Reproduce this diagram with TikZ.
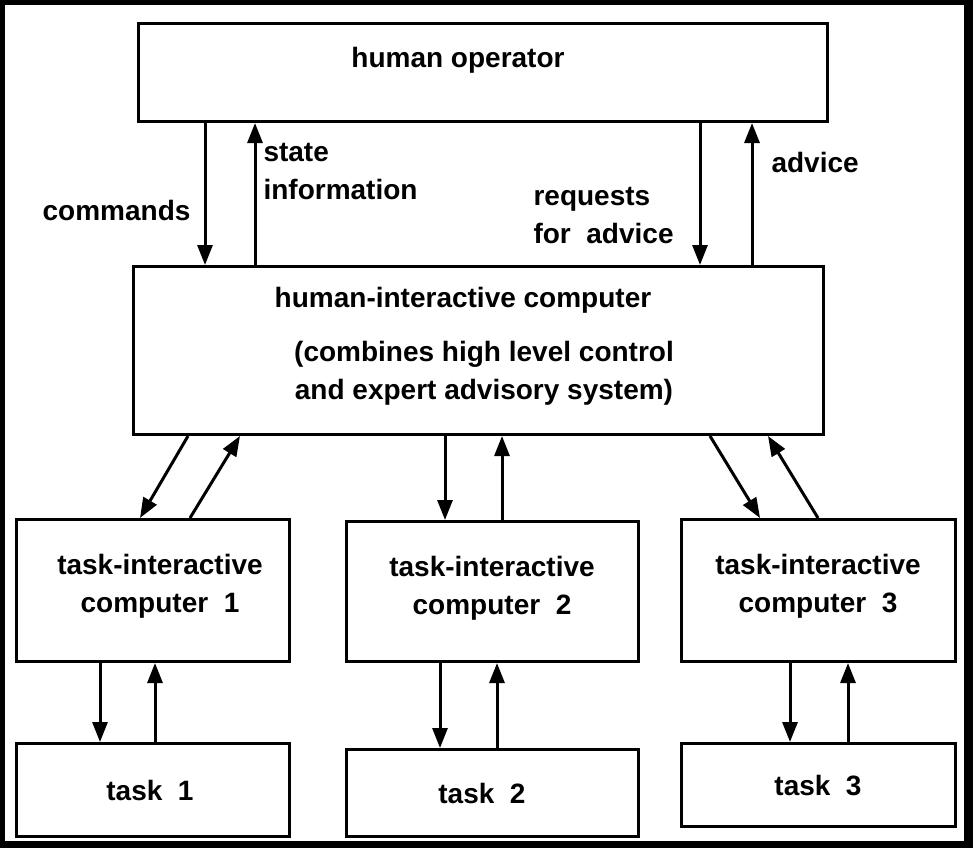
\documentclass[tikz,border=0pt]{standalone}
\usepackage{fontspec}
\setmainfont{Liberation Sans}
\usetikzlibrary{arrows.meta}
\begin{document}
\begin{tikzpicture}[x=1pt,y=-1pt,
  arr/.style={line width=3pt,-{Triangle[length=20pt,width=15pt]}},
  lab/.style={font=\fontsize{28}{38}\selectfont\bfseries,align=left},
  bx/.style={draw,line width=3pt}]
\fill[black] (0,0) rectangle (973,848);
\fill[white] (5,5) rectangle (964,841);
\useasboundingbox (0,0) rectangle (973,848);
\node[bx, minimum width=689pt, minimum height=98pt, anchor=north west] (ho) at (137,22) {};
\node[lab] at (458,60) {human operator};
\node[bx, minimum width=690pt, minimum height=168pt, anchor=north west] (hic) at (132,265) {};
\node[lab] at (463,300) {human-interactive computer};
\node[lab,align=center] at (484,373) {(combines high level control\\and expert advisory system)};
\node[bx, minimum width=273pt, minimum height=142pt, anchor=north west] (t1) at (15,518) {};
\node[lab,align=center] (t1l) at (160,586) {task-interactive\\computer\ \ 1};
\node[bx, minimum width=292pt, minimum height=140pt, anchor=north west] (t2) at (345,520) {};
\node[lab,align=center] (t2l) at (492,588) {task-interactive\\computer\ \ 2};
\node[bx, minimum width=274pt, minimum height=142pt, anchor=north west] (t3) at (680,518) {};
\node[lab,align=center] (t3l) at (818,586) {task-interactive\\computer\ \ 3};
\node[bx, minimum width=273pt, minimum height=93pt, anchor=north west] (k1) at (15,742) {};
\node[lab] at (150,790) {task\ \ 1};
\node[bx, minimum width=292pt, minimum height=87pt, anchor=north west] (k2) at (345,748) {};
\node[lab] at (482,793) {task\ \ 2};
\node[bx, minimum width=274pt, minimum height=83pt, anchor=north west] (k3) at (680,742) {};
\node[lab] at (818,786) {task\ \ 3};
% top arrows
\draw[arr] (205,0 |- ho.south) -- (205,0 |- hic.north);
\draw[arr] (255,0 |- hic.north) -- (255,0 |- ho.south);
\draw[arr] (700,0 |- ho.south) -- (700,0 |- hic.north);
\draw[arr] (752,0 |- hic.north) -- (752,0 |- ho.south);
\node[lab,anchor=east] at (194,210) {commands};
\node[lab,anchor=west] at (260,172) {state\\information};
\node[lab,anchor=west] at (530,216) {requests\\for\ \ advice};
\node[lab,anchor=west] at (768,162) {advice};
% middle arrows
\draw[arr] (188,0 |- hic.south) -- (140,0 |- t1.north);
\draw[arr] (190,0 |- t1.north) -- (240,0 |- hic.south);
\draw[arr] (445,0 |- hic.south) -- (445,0 |- t2.north);
\draw[arr] (502,0 |- t2.north) -- (502,0 |- hic.south);
\draw[arr] (710,0 |- hic.south) -- (760,0 |- t3.north);
\draw[arr] (818,0 |- t3.north) -- (768,0 |- hic.south);
% bottom arrows
\draw[arr] (100,0 |- t1.south) -- (100,0 |- k1.north);
\draw[arr] (155,0 |- k1.north) -- (155,0 |- t1.south);
\draw[arr] (440,0 |- t2.south) -- (440,0 |- k2.north);
\draw[arr] (497,0 |- k2.north) -- (497,0 |- t2.south);
\draw[arr] (790,0 |- t3.south) -- (790,0 |- k3.north);
\draw[arr] (848,0 |- k3.north) -- (848,0 |- t3.south);
\end{tikzpicture}
\end{document}
